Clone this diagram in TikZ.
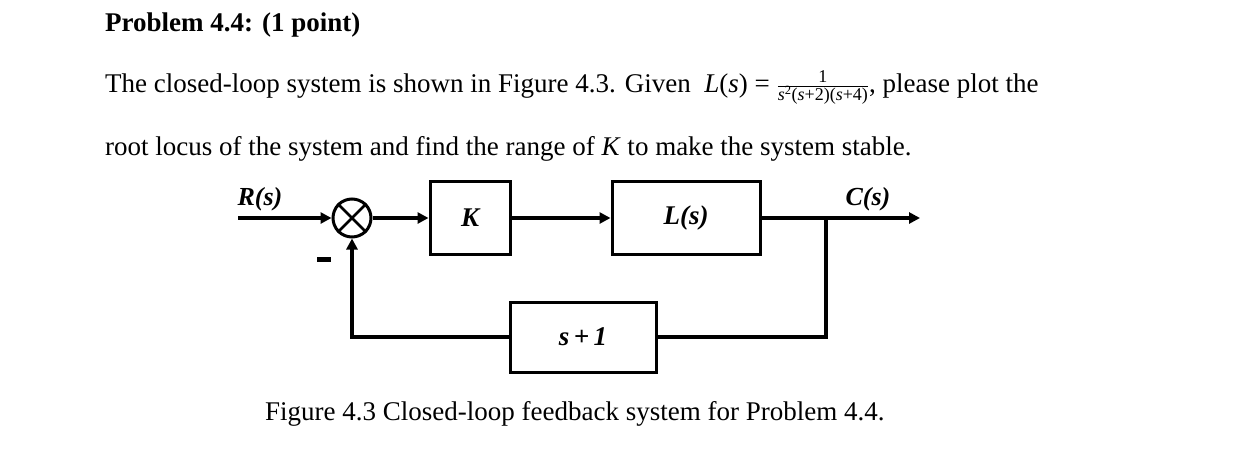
\documentclass[tikz,border=0pt]{standalone}
\usepackage{fontspec}
\setmainfont{Liberation Serif}
\usetikzlibrary{arrows.meta}
\begin{document}
\begin{tikzpicture}[x=1pt,y=-1pt,
  txt/.style={anchor=base west,inner sep=0,font=\fontsize{27}{30}\selectfont},
  blk/.style={draw,line width=3pt,minimum width=#1,minimum height=73pt,inner sep=0,font=\fontsize{27}{30}\selectfont\bfseries\itshape},
  lbl/.style={font=\fontsize{26}{28}\selectfont\bfseries\itshape},
  ln/.style={line width=3.5pt},
  arr/.style={ln,-{Triangle[length=11pt,width=11pt]}}]
\useasboundingbox (0,0) rectangle (1256,450);
\node[txt,font=\fontsize{27}{30}\selectfont\bfseries] (t1) at (105,31) {Problem 4.4: (1 point)};
\node[txt] (t2) at (105,92) {The closed-loop system is shown in Figure 4.3. Given\ \ \textit{L}(\textit{s}) = $\frac{\hbox{\fontsize{18}{18}\selectfont 1}}{\hbox{\fontsize{18}{18}\selectfont\textit{s}\textsuperscript{2}(\textit{s}+2)(\textit{s}+4)}}$, please plot the};
\node[txt] (t3) at (105,155) {root locus of the system and find the range of \textit{K} to make the system stable.};
\node[txt] (cap) at (265,420) {Figure 4.3 Closed-loop feedback system for Problem 4.4.};
% diagram
\node[circle,draw,line width=3pt,minimum size=38pt,inner sep=0] (sum) at (352,218) {};
\draw[line width=2.5pt] (sum.north west)--(sum.south east) (sum.north east)--(sum.south west);
\node[blk=80pt] (K) at (470,218) {K};
\node[blk=148pt] (L) at (686,218) {L(s)};
\node[blk=146pt,minimum height=70pt] (H) at (583,337) {s\,+\,1};
\coordinate (in) at (238,218);
\coordinate (br) at (826,218);
\coordinate (out) at (920,218);
\draw[arr] (in)--(sum);
\draw[arr] (sum)--(K);
\draw[arr] (K)--(L);
\draw[arr] (L)--(out);
\draw[ln] (br)|-(H);
\draw[arr] (H)-|(sum);
\node[lbl] (R) at (260,199) {R(s)};
\node[lbl] (C) at (868,199) {C(s)};
\node[fill,minimum width=14pt,minimum height=5pt,inner sep=0] (minus) at (324,259) {};
\end{tikzpicture}
\end{document}
